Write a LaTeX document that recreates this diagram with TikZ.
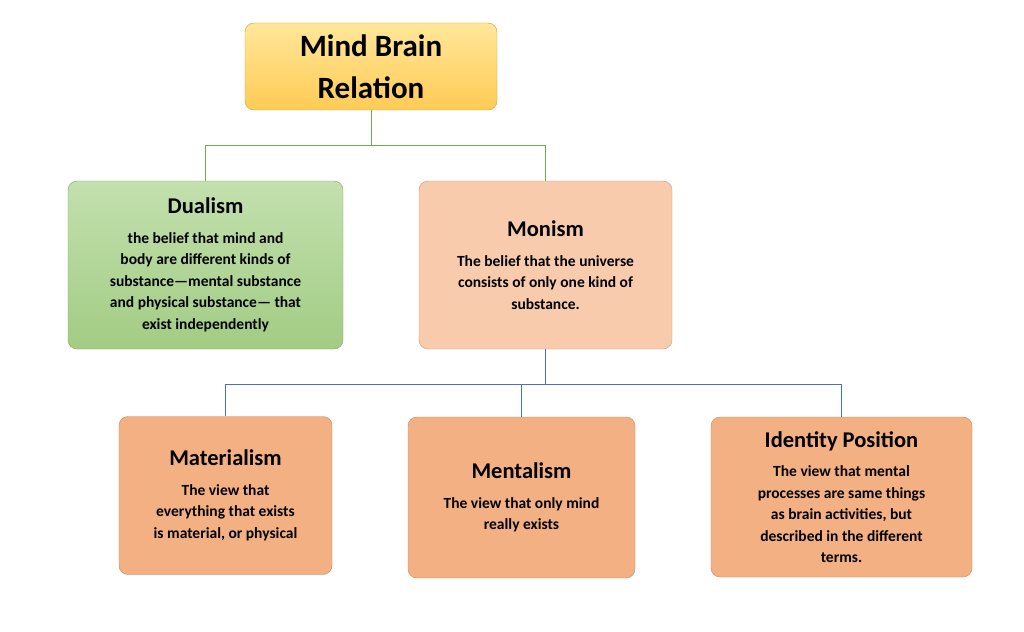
\documentclass[tikz,border=0pt]{standalone}
\usepackage{fontspec}
\setmainfont{Carlito}
\definecolor{topfillA}{HTML}{FFE79A}
\definecolor{topfillB}{HTML}{FFCB55}
\definecolor{topline}{HTML}{C9A03C}
\definecolor{dualA}{HTML}{C3E0AE}
\definecolor{dualB}{HTML}{A2CC84}
\definecolor{dualline}{HTML}{7EA862}
\definecolor{monfill}{HTML}{F7CBAC}
\definecolor{monline}{HTML}{CF9A78}
\definecolor{subfill}{HTML}{F3B083}
\definecolor{subline}{HTML}{C98658}
\definecolor{greenwire}{HTML}{70AD47}
\definecolor{bluewire}{HTML}{4472C4}
\tikzset{
  box/.style={rectangle, rounded corners=9pt, align=center, font=\bfseries\fontsize{15.5}{21.5}\selectfont, inner sep=4pt},
  topbox/.style={box, top color=topfillA, bottom color=topfillB, draw=topline, minimum width=252pt, minimum height=87pt, font=\bfseries\fontsize{31}{42}\selectfont},
  dualbox/.style={box, top color=dualA, bottom color=dualB, draw=dualline, minimum width=275pt, minimum height=168pt},
  monbox/.style={box, fill=monfill, draw=monline, minimum width=253pt, minimum height=168pt},
  subbox/.style={box, fill=subfill, draw=subline, minimum height=158pt},
  greenlink/.style={draw=greenwire, line width=0.9pt},
  bluelink/.style={draw=bluewire, line width=0.9pt},
}
\newcommand{\boxtitle}[1]{{\fontsize{22.5}{27}\selectfont #1}\\[8pt]}
\begin{document}
\begin{tikzpicture}[x=1pt,y=-1pt]
  \useasboundingbox (0,0) rectangle (1024,631);
  % top of the tree
  \node[topbox] (mbr) at (371,66.5) {Mind Brain\\Relation};
  % second row
  \node[dualbox] (dual) at (205.5,265) {\boxtitle{Dualism}the belief that mind and\\body are different kinds of\\substance---mental substance\\and physical substance--- that\\exist independently};
  \node[monbox] (mon) at (545.5,265) {\boxtitle{Monism}The belief that the universe\\consists of only one kind of\\substance.};
  % third row
  \node[subbox, minimum width=213pt] (mat) at (225.5,495.5) {\boxtitle{Materialism}The view that\\everything that exists\\is material, or physical};
  \node[subbox, minimum width=227pt, minimum height=161pt] (ment) at (521.5,497.5) {\boxtitle{Mentalism}The view that only mind\\really exists};
  \node[subbox, minimum width=261pt, minimum height=160pt] (ident) at (841.5,497) {\boxtitle{Identity Position}The view that mental\\processes are same things\\as brain activities, but\\described in the different\\terms.};
  % connectors
  \draw[greenlink] (mbr.south) -- ++(0,35) -| (dual.north);
  \draw[greenlink] (mbr.south) -- ++(0,35) -| (mon.north);
  \draw[bluelink] (mon.south) -- ++(0,35) -| (mat.north);
  \draw[bluelink] (mon.south) -- ++(0,35) -| (ment.north);
  \draw[bluelink] (mon.south) -- ++(0,35) -| (ident.north);
\end{tikzpicture}
\end{document}
